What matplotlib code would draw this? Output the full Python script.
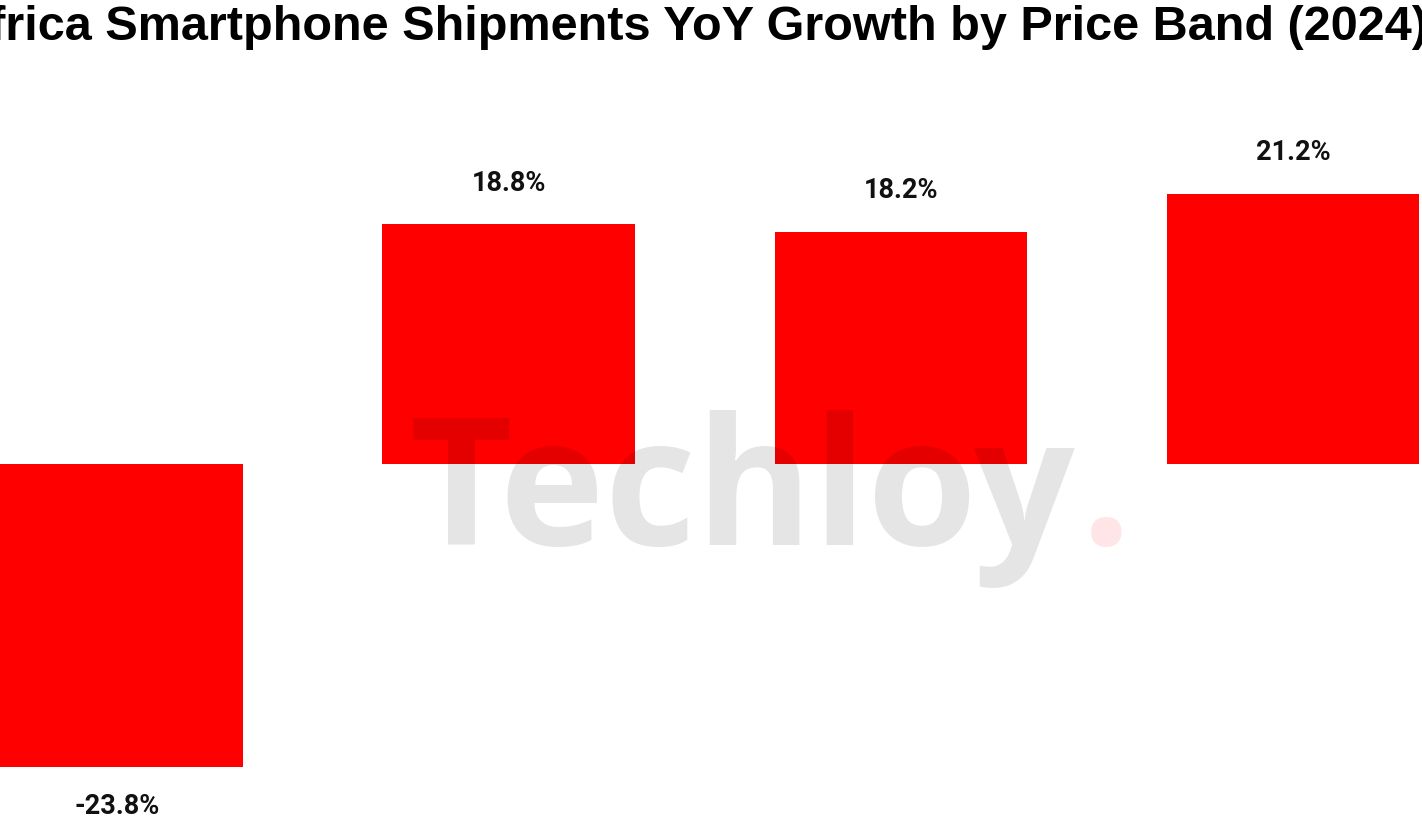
import numpy as np
import matplotlib.pyplot as plt

# data (price bands are not labelled in the chart itself)
price_bands = ["<$100", "$100-$200", "$200-$400", "$400+"]
yoy_growth = [-23.8, 18.8, 18.2, 21.2]

title = "Africa Smartphone Shipments YoY Growth by Price Band (2024)"

fig = plt.figure(figsize=(14.22, 8.2), dpi=100)
ax = fig.add_axes([0, 0, 1, 1])

x = np.arange(len(price_bands))
ax.bar(x, yoy_growth, width=0.645, color="#ff0000", zorder=2)

# value labels
for xi, v in zip(x, yoy_growth):
    off = 3.3 if v >= 0 else -3.0
    ax.text(xi, v + off, f"{v:.1f}%", ha="center", va="center",
            fontsize=19.5, fontweight="bold", family="Roboto", color="#111111")

ax.set_xlim(-0.298, 3.329)
ax.set_ylim(-27.84, 36.47)
ax.axis("off")

# title, partly cut off like the source image
fig.text(0.486, 0.966, title, ha="center", va="center", fontsize=35,
         fontweight="bold", family="Liberation Sans", color="black")

# watermark
wm = fig.text(0.288, 0.335, "Techloy", ha="left", va="baseline", fontsize=128,
              fontweight="bold", family="Open Sans", color="black",
              alpha=0.1, zorder=5)
fig.canvas.draw()
bb = wm.get_window_extent().transformed(fig.transFigure.inverted())
fig.text(bb.x1 + 0.004, 0.335, ".", ha="left", va="baseline", fontsize=128,
         fontweight="bold", family="Open Sans", color="#ff0000",
         alpha=0.1, zorder=5)

fig.savefig("out.png", dpi=100, facecolor="white")
